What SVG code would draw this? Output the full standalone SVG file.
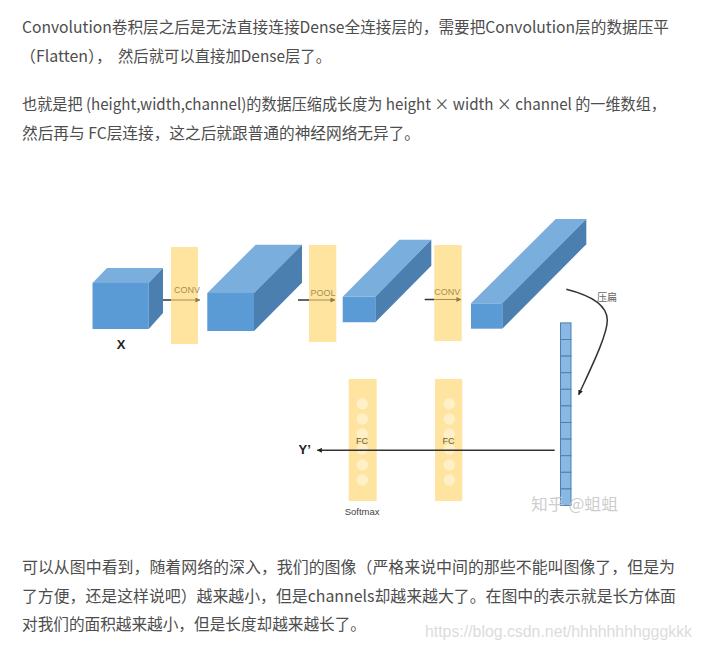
<svg xmlns="http://www.w3.org/2000/svg" width="702" height="649" viewBox="0 0 702 649">
<style>
.p{font-family:"Noto Sans CJK SC","Noto Sans",sans-serif;font-size:16px;fill:#4d4d4d}
.f{fill:#5b9bd5}.t{fill:#7aaedd}.s{fill:#4a7fb0}
.b{fill:#ffe49f}
.c{fill:#fff0c8}
.l{font-family:"Liberation Sans",Arial,sans-serif;font-size:9px;fill:#a58f55}
.d{font-family:"Liberation Sans",Arial,sans-serif;font-size:9px;fill:#66604a}
.k{font-family:"Liberation Sans",Arial,sans-serif;fill:#222}
.a{fill:none;stroke:#333;stroke-width:1.5}
.g{fill:none;stroke:#a58f55;stroke-width:1}
</style>
<defs>
<marker id="ah" viewBox="0 0 6 6" refX="5.5" refY="3" markerWidth="5" markerHeight="5" orient="auto-start-reverse" markerUnits="userSpaceOnUse"><path d="M0 0L6 3L0 6Z" fill="#222"/></marker>
<marker id="ag" viewBox="0 0 6 6" refX="5.5" refY="3" markerWidth="5" markerHeight="5" orient="auto" markerUnits="userSpaceOnUse"><path d="M0 0L6 3L0 6Z" fill="#8a7a4c"/></marker>
</defs>
<rect width="702" height="649" fill="#fff"/>
<g id="text-top">
<text class="p" x="22" y="33" textLength="647" lengthAdjust="spacingAndGlyphs">Convolution卷积层之后是无法直接连接Dense全连接层的，需要把Convolution层的数据压平</text>
<text class="p" x="20" y="62" textLength="92" lengthAdjust="spacingAndGlyphs">（Flatten），</text>
<text class="p" x="118" y="62" textLength="213" lengthAdjust="spacingAndGlyphs">然后就可以直接加Dense层了。</text>
<text class="p" x="22" y="110" textLength="644" lengthAdjust="spacingAndGlyphs">也就是把 (height,width,channel)的数据压缩成长度为 height × width × channel 的一维数组，</text>
<text class="p" x="22" y="139" textLength="398" lengthAdjust="spacingAndGlyphs">然后再与 FC层连接，这之后就跟普通的神经网络无异了。</text>
</g>
<g id="node-x">
<path class="f" d="M92.500 283H148.700V329H92.500Z"/><path class="t" d="M92.500 283L107 268H163L148.700 283Z"/><path class="s" d="M148.700 283L163 268V313L148.700 329Z"/>
<text class="k" x="121" y="349" font-size="13" font-weight="700" text-anchor="middle">X</text>
</g>
<g id="node-conv1">
<rect class="b" x="171" y="247" width="27" height="97"/>
<text class="l" x="174" y="293">CONV</text>
</g>
<g id="node-vol2">
<path class="f" d="M207.300 293H254V331H207.300Z"/><path class="t" d="M207.300 293L255.700 244.700H302L254 293Z"/><path class="s" d="M254 293L302 244.700V282.700L254 331Z"/>
</g>
<g id="node-pool">
<rect class="b" x="309" y="245" width="27.300" height="97"/>
<text class="l" x="310.500" y="296">POOL</text>
</g>
<g id="node-vol3">
<path class="f" d="M342.700 296.700H375.300V322.300H342.700Z"/><path class="t" d="M342.700 296.700L399.300 239.700H431.300L375.300 296.700Z"/><path class="s" d="M375.300 296.700L431.300 239.700V265.700L375.300 322.300Z"/>
</g>
<g id="node-conv2">
<rect class="b" x="434.300" y="245" width="27.400" height="96"/>
<text class="l" x="434.300" y="295">CONV</text>
</g>
<g id="node-vol4">
<path class="f" d="M471 303.300H502.300V328.700H471Z"/><path class="t" d="M471 303.300L555.700 219H586.300L502.300 303.300Z"/><path class="s" d="M502.300 303.300L586.300 219V244.300L502.300 328.700Z"/>
</g>
<g id="node-flat-label"><text x="597" y="301" font-family="'Noto Sans CJK SC',sans-serif" font-size="10" fill="#666">压扁</text></g>
<g id="node-flat">
<g fill="#8ab8e4" stroke="#4f7fae" stroke-width="1">
<rect x="560.500" y="322.900" width="10.500" height="16.600"/><rect x="560.500" y="339.500" width="10.500" height="16.600"/><rect x="560.500" y="356.100" width="10.500" height="16.600"/><rect x="560.500" y="372.700" width="10.500" height="16.600"/><rect x="560.500" y="389.300" width="10.500" height="16.600"/><rect x="560.500" y="405.900" width="10.500" height="16.600"/><rect x="560.500" y="422.500" width="10.500" height="16.600"/><rect x="560.500" y="439.100" width="10.500" height="16.600"/><rect x="560.500" y="455.700" width="10.500" height="16.600"/><rect x="560.500" y="472.300" width="10.500" height="16.600"/><rect x="560.500" y="488.900" width="10.500" height="16.600"/>
</g>
</g>
<g id="node-fc2">
<rect class="b" x="435" y="379" width="27.300" height="122"/>
<g class="c"><circle cx="449.300" cy="403.700" r="5.700"/><circle cx="449.300" cy="419" r="5.700"/><circle cx="449.300" cy="434" r="5.700"/><circle cx="449.300" cy="449.300" r="5.700"/><circle cx="449.300" cy="465" r="5.700"/><circle cx="449.300" cy="480" r="5.700"/></g>
<text class="d" x="442.500" y="444">FC</text>
</g>
<g id="node-fc1">
<rect class="b" x="348.700" y="379" width="28" height="122"/>
<g class="c"><circle cx="362.300" cy="403.700" r="5.700"/><circle cx="362.300" cy="419" r="5.700"/><circle cx="362.300" cy="434" r="5.700"/><circle cx="362.300" cy="449.300" r="5.700"/><circle cx="362.300" cy="465" r="5.700"/><circle cx="362.300" cy="480" r="5.700"/></g>
<text class="d" x="356" y="444">FC</text>
<text x="344.700" y="515" font-family="'Liberation Sans',sans-serif" font-size="9.500" fill="#444">Softmax</text>
</g>
<g id="node-y"><text class="k" x="298.500" y="454" font-size="13" font-weight="700">Y’</text></g>
<g id="connectors">
<path class="a" d="M163 300H171"/><path class="g" d="M171 300H200" marker-end="url(#ag)"/>
<path class="a" d="M298 300H309"/><path class="g" d="M309 300H335" marker-end="url(#ag)"/>
<path class="a" d="M424.700 299.500H434.300"/><path class="g" d="M434.300 299.500H461" marker-end="url(#ag)"/>
<path class="a" d="M566.300 289.300C585 294 607 303 607.300 320C607.500 335 590 370 578.700 394.700" marker-end="url(#ah)"/>
<path class="a" d="M554.700 450.300H317.300" marker-end="url(#ah)"/>
</g>
<g id="text-bottom">
<text class="p" x="22" y="573" textLength="653" lengthAdjust="spacingAndGlyphs">可以从图中看到，随着网络的深入，我们的图像（严格来说中间的那些不能叫图像了，但是为</text>
<text class="p" x="22" y="602" textLength="654" lengthAdjust="spacingAndGlyphs">了方便，还是这样说吧）越来越小，但是channels却越来越大了。在图中的表示就是长方体面</text>
<text class="p" x="22" y="630" textLength="344" lengthAdjust="spacingAndGlyphs">对我们的面积越来越小，但是长度却越来越长了。</text>
</g>
<g id="watermarks">
<text x="531" y="510" font-family="'Noto Sans CJK SC',sans-serif" font-size="16" fill="#c4c4c4" fill-opacity="0.85" textLength="87" lengthAdjust="spacingAndGlyphs">知乎 @蛆蛆</text>
<text x="425" y="637" font-family="'Liberation Sans',sans-serif" font-size="16" fill="#dcdcdc" textLength="267" lengthAdjust="spacingAndGlyphs">https://blog.csdn.net/hhhhhhhhgggkkk</text>
</g>
</svg>
